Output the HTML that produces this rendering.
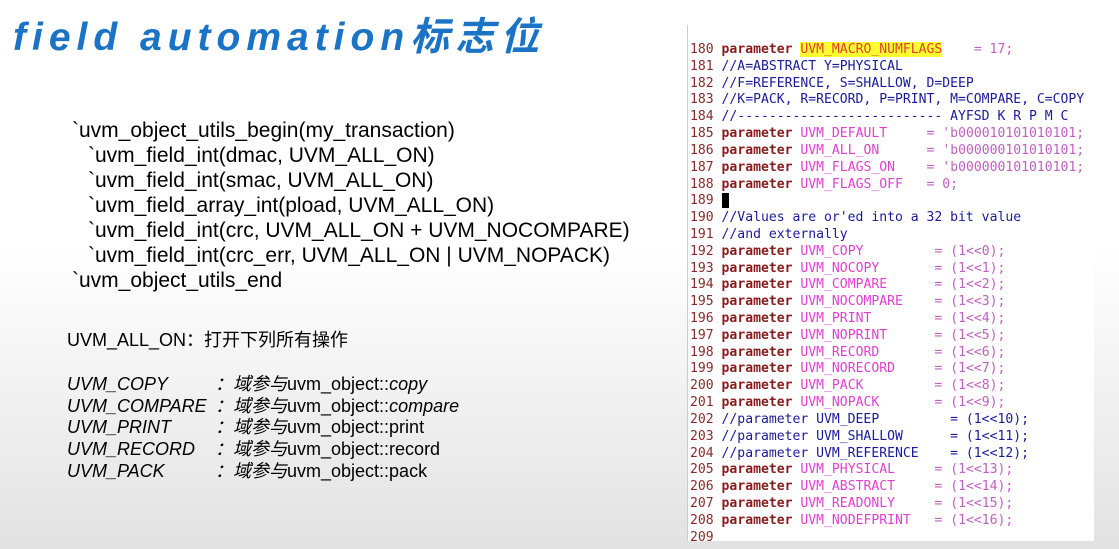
<!DOCTYPE html>
<html><head><meta charset="utf-8"><style>
html,body{margin:0;padding:0}
body{width:1119px;height:549px;position:relative;overflow:hidden;background:linear-gradient(#ffffff 0%,#ffffff 45%,#e2e2e2 100%);font-family:"Liberation Sans","Noto Sans CJK SC",sans-serif}
.t{position:absolute;left:13px;top:6px;font-size:39px;font-weight:bold;font-style:italic;color:#1a73c4;letter-spacing:6px;white-space:nowrap}
.c{position:absolute;font-size:21px;color:#000;white-space:nowrap;line-height:25px}
.b{position:absolute;font-size:18px;white-space:nowrap;line-height:21.7px}
.b span{display:inline-block}
.panel{position:absolute;left:687px;top:25px;width:406px;height:516px;background:#fff;border-left:1px solid #ccc}
.code{position:absolute;left:690px;top:42px;font-family:"DejaVu Sans Mono","Liberation Mono",monospace;font-size:13.1px;line-height:16.82px;white-space:pre;color:#1a1a9a}
.n{color:#8a2a2a}.k{color:#8b1a1a;font-weight:bold}.v{color:#e040d0}.o{color:#c060c0}.h{background:#ffff30;color:#e04030}
</style></head><body>
<div class="t">field automation标志位</div>
<div class="c" style="left:72px;top:118px">`uvm_object_utils_begin(my_transaction)</div>
<div class="c" style="left:88px;top:143px">`uvm_field_int(dmac, UVM_ALL_ON)<br>`uvm_field_int(smac, UVM_ALL_ON)<br>`uvm_field_array_int(pload, UVM_ALL_ON)<br>`uvm_field_int(crc, UVM_ALL_ON + UVM_NOCOMPARE)<br>`uvm_field_int(crc_err, UVM_ALL_ON | UVM_NOPACK)</div>
<div class="c" style="left:72px;top:268px">`uvm_object_utils_end</div>
<div class="b" style="left:67px;top:330px">UVM_ALL_ON：打开下列所有操作</div>
<div class="b" style="left:67px;top:374px">
<span style="width:148px;font-style:italic">UVM_COPY</span><i>：域参与</i>uvm_object::<i>copy</i><br>
<span style="width:148px;font-style:italic">UVM_COMPARE</span><i>：域参与</i>uvm_object::<i>compare</i><br>
<span style="width:148px;font-style:italic">UVM_PRINT</span><i>：域参与</i>uvm_object::print<br>
<span style="width:148px;font-style:italic">UVM_RECORD</span><i>：域参与</i>uvm_object::record<br>
<span style="width:148px;font-style:italic">UVM_PACK</span><i>：域参与</i>uvm_object::pack</div>
<div class="panel"></div>
<div class="code"><span class="n">180</span> <span class="k">parameter</span> <span class="h">UVM_MACRO_NUMFLAGS</span>    <span class="o">= 17;</span>
<span class="n">181</span> //A=ABSTRACT Y=PHYSICAL
<span class="n">182</span> //F=REFERENCE, S=SHALLOW, D=DEEP
<span class="n">183</span> //K=PACK, R=RECORD, P=PRINT, M=COMPARE, C=COPY
<span class="n">184</span> //-------------------------- AYFSD K R P M C
<span class="n">185</span> <span class="k">parameter</span> <span class="v">UVM_DEFAULT</span>     <span class="o">= 'b000010101010101;</span>
<span class="n">186</span> <span class="k">parameter</span> <span class="v">UVM_ALL_ON</span>      <span class="o">= 'b000000101010101;</span>
<span class="n">187</span> <span class="k">parameter</span> <span class="v">UVM_FLAGS_ON</span>    <span class="o">= 'b000000101010101;</span>
<span class="n">188</span> <span class="k">parameter</span> <span class="v">UVM_FLAGS_OFF</span>   <span class="o">= 0;</span>
<span class="n">189</span> <span style="background:#000"> </span>
<span class="n">190</span> //Values are or'ed into a 32 bit value
<span class="n">191</span> //and externally
<span class="n">192</span> <span class="k">parameter</span> <span class="v">UVM_COPY</span>         <span class="o">= (1&lt;&lt;0);</span>
<span class="n">193</span> <span class="k">parameter</span> <span class="v">UVM_NOCOPY</span>       <span class="o">= (1&lt;&lt;1);</span>
<span class="n">194</span> <span class="k">parameter</span> <span class="v">UVM_COMPARE</span>      <span class="o">= (1&lt;&lt;2);</span>
<span class="n">195</span> <span class="k">parameter</span> <span class="v">UVM_NOCOMPARE</span>    <span class="o">= (1&lt;&lt;3);</span>
<span class="n">196</span> <span class="k">parameter</span> <span class="v">UVM_PRINT</span>        <span class="o">= (1&lt;&lt;4);</span>
<span class="n">197</span> <span class="k">parameter</span> <span class="v">UVM_NOPRINT</span>      <span class="o">= (1&lt;&lt;5);</span>
<span class="n">198</span> <span class="k">parameter</span> <span class="v">UVM_RECORD</span>       <span class="o">= (1&lt;&lt;6);</span>
<span class="n">199</span> <span class="k">parameter</span> <span class="v">UVM_NORECORD</span>     <span class="o">= (1&lt;&lt;7);</span>
<span class="n">200</span> <span class="k">parameter</span> <span class="v">UVM_PACK</span>         <span class="o">= (1&lt;&lt;8);</span>
<span class="n">201</span> <span class="k">parameter</span> <span class="v">UVM_NOPACK</span>       <span class="o">= (1&lt;&lt;9);</span>
<span class="n">202</span> //parameter UVM_DEEP         = (1&lt;&lt;10);
<span class="n">203</span> //parameter UVM_SHALLOW      = (1&lt;&lt;11);
<span class="n">204</span> //parameter UVM_REFERENCE    = (1&lt;&lt;12);
<span class="n">205</span> <span class="k">parameter</span> <span class="v">UVM_PHYSICAL</span>     <span class="o">= (1&lt;&lt;13);</span>
<span class="n">206</span> <span class="k">parameter</span> <span class="v">UVM_ABSTRACT</span>     <span class="o">= (1&lt;&lt;14);</span>
<span class="n">207</span> <span class="k">parameter</span> <span class="v">UVM_READONLY</span>     <span class="o">= (1&lt;&lt;15);</span>
<span class="n">208</span> <span class="k">parameter</span> <span class="v">UVM_NODEFPRINT</span>   <span class="o">= (1&lt;&lt;16);</span>
<span class="n">209</span></div>
</body></html>
